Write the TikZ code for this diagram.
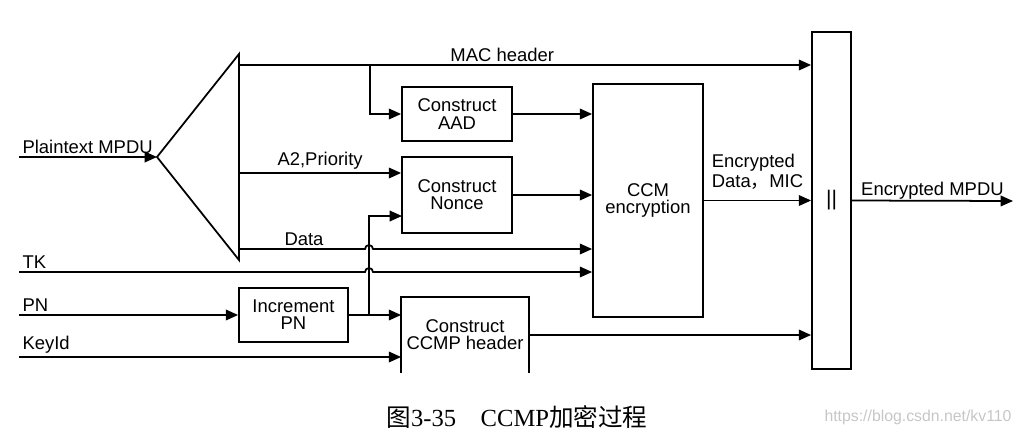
\documentclass[tikz,border=0pt]{standalone}
\usepackage{fontspec}
\setmainfont{Liberation Sans}
\newfontfamily\capfont{Liberation Serif}
\newfontfamily\cjk{Noto Sans CJK SC}
\usetikzlibrary{arrows.meta}

\begin{document}
\begin{tikzpicture}
  [x=0.02cm, y=-0.02cm,
   blk/.style={draw,
               align=center,
               inner sep=0pt,
               line width=1pt,
               font=\fontsize{10.5}{9.8}\selectfont},
   arr/.style={-{Triangle[length=7pt,width=6pt]}, line width=1pt},
   ln/.style={line width=1pt},
   lbl/.style={font=\fontsize{10.5}{11.5}\selectfont, inner sep=1.5pt}]
  \useasboundingbox (0,0) rectangle (1021,440);

  % splitter
  \coordinate (apex) at (157,157);
  \coordinate (stop) at (239,54);
  \coordinate (sbot) at (239,260);
  \draw[ln] (stop) -- (apex) -- (sbot) -- cycle;

  % blocks
  \node[blk, minimum width=2.2cm, minimum height=1.08cm] (aad) at (457,114) {Construct\\AAD};
  \node[blk, minimum width=2.2cm, minimum height=1.52cm] (nonce) at (457,195) {Construct\\Nonce};
  \node[blk, minimum width=2.2cm, minimum height=4.66cm] (ccm) at (648,200.5) {CCM\\encryption};
  \node[blk, minimum width=0.78cm, minimum height=6.74cm,
        font=\fontsize{12}{12}\selectfont] (cat) at (831.5,200.5) {||};
  \node[blk, minimum width=2.18cm, minimum height=1.08cm] (incpn) at (293.5,315) {Increment\\PN};
  \node[blk, draw=none, minimum width=2.52cm, minimum height=1.48cm] (ccmp) at (465,335) {Construct\\CCMP header};
  \draw[ln] (ccmp.south west) |- (ccmp.north east) -- (ccmp.south east);

  % taps and inputs
  \coordinate (s1) at (239,65);
  \coordinate (s2) at (239,173);
  \coordinate (s3) at (239,249);
  \coordinate (br) at (370,65);
  \coordinate (pin) at (19,157);
  \coordinate (tkin) at (19,272);
  \coordinate (pnin) at (19,315);
  \coordinate (kin) at (19,357);
  \coordinate (jn) at (369,315);
  \coordinate (nin) at (402,216);
  \coordinate (out) at (1013,201);

  % connectors
  \draw[arr] (pin) node[lbl, above right] {Plaintext MPDU} -- (apex);
  \draw[arr] (s1) -- node[lbl, above, pos=0.46] {MAC header} (s1 -| cat.west);
  \draw[arr] (br) |- (aad.west);
  \draw[arr] (s2) -- node[lbl, above] {A2,Priority} (s2 -| nonce.west);
  \draw[arr] (s3) -- ([xshift=-0.08cm]jn |- s3)
    arc[start angle=180, end angle=0, radius=0.08cm] -- (s3 -| ccm.west);
  \path (s3) -- node[lbl, above] {Data} (jn |- s3);
  \draw[arr] (tkin) node[lbl, above right] {TK} -- ([xshift=-0.08cm]jn |- tkin)
    arc[start angle=180, end angle=0, radius=0.08cm] -- (tkin -| ccm.west);
  \draw[arr] (pnin) node[lbl, above right] {PN} -- (incpn.west);
  \draw[arr] (incpn.east) -- (incpn.east -| ccmp.west);
  \draw[arr] (jn) |- (nin);
  \draw[arr] (kin) node[lbl, above right] {KeyId} -- (kin -| ccmp.west);
  \draw[arr] (aad.east) -- (aad.east -| ccm.west);
  \draw[arr] (nonce.east) -- (nonce.east -| ccm.west);
  \draw[arr] (ccm.east) -- node[lbl, above=4pt, align=left] {Encrypted\\Data{\cjk ，}MIC} (ccm.east -| cat.west);
  \draw[arr] (ccmp.east) -- (ccmp.east -| cat.west);
  \draw[arr] (cat.east) -- node[lbl, above, inner sep=0.5pt] {Encrypted MPDU} (out);

  % caption
  \node[font=\fontsize{14}{16}\selectfont] (cap) at (517,417)
    {{\cjk 图}{\capfont 3-35\quad CCMP}{\cjk 加密过程}};
  \node[font=\fontsize{9}{10}\selectfont, text=gray!45] (wm) at (918,417)
    {https://blog.csdn.net/kv110};
\end{tikzpicture}
\end{document}
